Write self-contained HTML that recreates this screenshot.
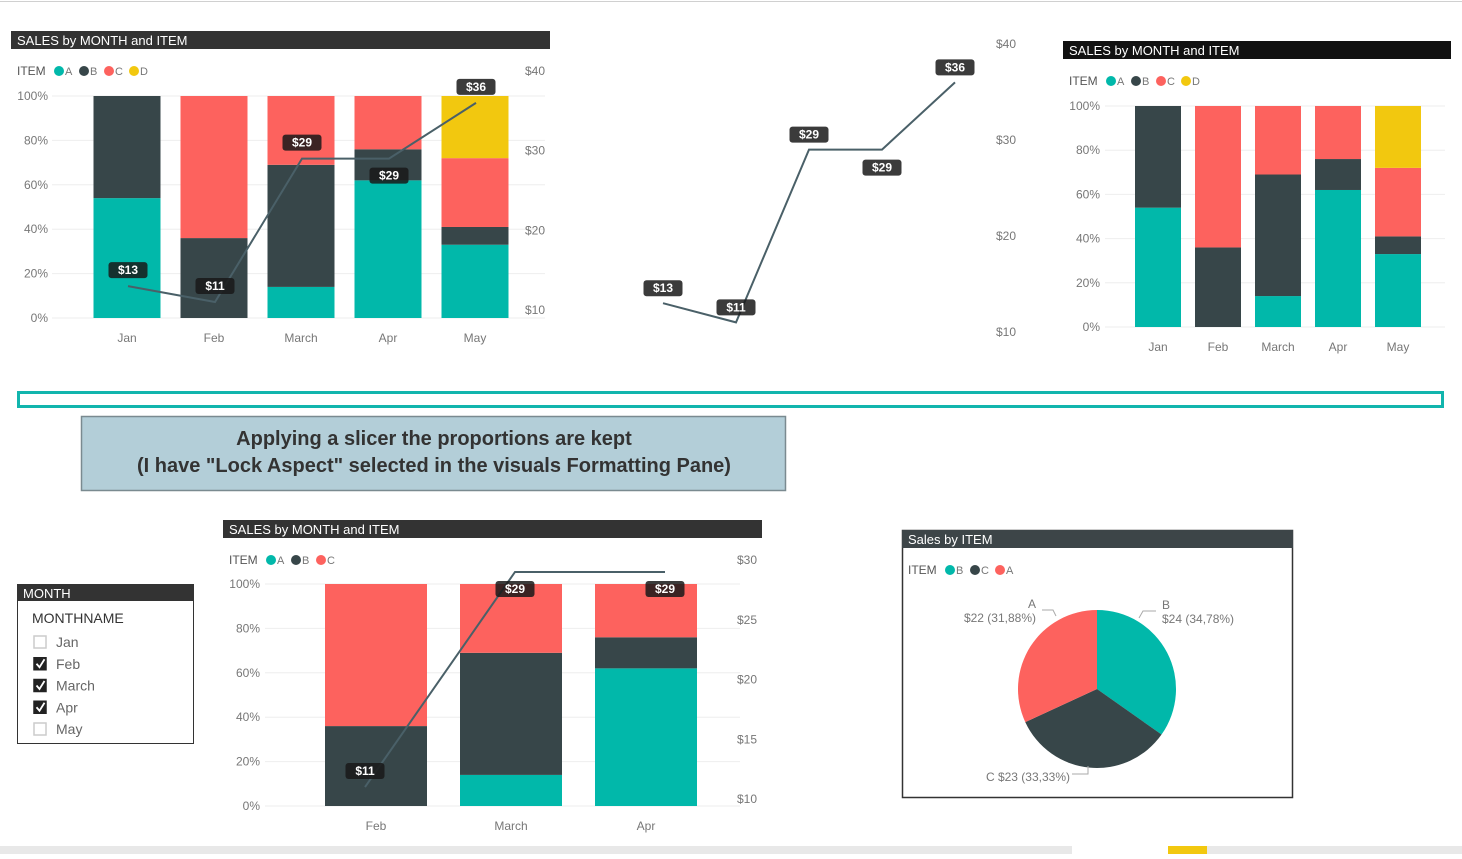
<!DOCTYPE html>
<html><head><meta charset="utf-8">
<style>
html,body{margin:0;padding:0;background:#fff;}
body{width:1462px;height:854px;overflow:hidden;position:relative;font-family:"Liberation Sans",sans-serif;}
svg text{font-family:"Liberation Sans",sans-serif;}
</style></head>
<body>
<svg id="root" width="1462" height="854" viewBox="0 0 1462 854" xmlns="http://www.w3.org/2000/svg">
  <line x1="0" y1="1.5" x2="1462" y2="1.5" stroke="#d0d0d0" stroke-width="1"/>
  <g>
    <rect x="11" y="31" width="539" height="18" fill="#333"/>
    <text x="17" y="45" font-size="13" fill="#fff">SALES by MONTH and ITEM</text>
  </g>
  <g>
    <rect x="1063" y="41" width="388" height="18" fill="#111"/>
    <text x="1069" y="55" font-size="13" fill="#fff">SALES by MONTH and ITEM</text>
  </g>
  <g>
    <rect x="223" y="520" width="539" height="18" fill="#333"/>
    <text x="229" y="534" font-size="13" fill="#fff">SALES by MONTH and ITEM</text>
  </g>
  <rect x="18.5" y="392.5" width="1424" height="14" fill="none" stroke="#12b5ad" stroke-width="3"/>
  <g>
    <rect x="81.5" y="416.5" width="704" height="74" fill="#b3ced8" stroke="#7a8a90" stroke-width="1.5"/>
    <text x="434" y="445" font-size="20" font-weight="bold" fill="#333" text-anchor="middle">Applying a slicer the proportions are kept</text>
    <text x="434" y="472" font-size="20" font-weight="bold" fill="#333" text-anchor="middle">(I have "Lock Aspect" selected in the visuals Formatting Pane)</text>
  </g>
  <g>
    <rect x="17.5" y="584.5" width="176" height="159" fill="#fff" stroke="#333" stroke-width="1"/>
    <rect x="17" y="584" width="177" height="17" fill="#333"/>
    <text x="23" y="598" font-size="13" fill="#fff">MONTH</text>
    <text x="32" y="623" font-size="14" fill="#333">MONTHNAME</text>
  </g>
  <g id="slicerItems"></g>
  <g>
    <rect x="902.5" y="530.5" width="390" height="267" fill="#fff" stroke="#333" stroke-width="1.5"/>
    <rect x="902" y="530" width="391" height="18" fill="#3d4548"/>
    <text x="908" y="544" font-size="13" fill="#fff">Sales by ITEM</text>
  </g>
  <g id="charts"></g>
  <g>
    <rect x="0" y="846" width="1072" height="8" fill="#e8e8e8"/>
    <rect x="1168" y="846" width="39" height="8" fill="#f2c80f"/>
    <rect x="1207" y="846" width="255" height="8" fill="#e8e8e8"/>
  </g>
</svg>
<script>
// ---------- data ----------
const colors = {A:'#01b8aa',B:'#374649',C:'#fd625e',D:'#f2c80f'};
const months = ['Jan','Feb','March','Apr','May'];
const itemsTop = ['A','B','C','D'];
const shareA = [54,0,14,62,33];
const shareB = [46,36,55,14,8];
const shareC = [0,64,31,24,31];
const shareD = [0,0,0,0,28];
const salesTotals = [13,11,29,29,36];
const labelBelow = [false,false,false,true,false];
const pctTicks = ['0%','20%','40%','60%','80%','100%'];
const topRightTicks = ['$10','$20','$30','$40'];
const topRightTickVals = [10,20,30,40];

const monthsBottom = ['Feb','March','Apr'];
const itemsBottom = ['A','B','C'];
const bShareA = [0,14,62];
const bShareB = [36,55,14];
const bShareC = [64,31,24];
const bSales = [11,29,29];
const bLabelBelow = [false,true,true];
const bottomTickVals = [10,15,20,25,30];
const bottomTicks = ['$10','$15','$20','$25','$30'];

const pieItems = ['B','C','A'];
const pieValues = [24,23,22];
const piePct = ['34,78%','33,33%','31,88%'];
const pieColors = ['#01b8aa','#374649','#fd625e'];

const slicerMonths = ['Jan','Feb','March','Apr','May'];
const slicerChecked = [false,true,true,true,false];

// ---------- helpers ----------
const NS='http://www.w3.org/2000/svg';
const root=document.getElementById('charts');
function mk(tag,attrs,parent){const e=document.createElementNS(NS,tag);for(const k in attrs)e.setAttribute(k,attrs[k]);(parent||root).appendChild(e);return e;}
function txt(x,y,s,attrs,parent){const t=mk('text',Object.assign({x:x,y:y,'font-size':12,fill:'#777'},attrs||{}),parent);t.textContent=s;return t;}
function linY(v,v0,v1,y0,y1){return y0+(v-v0)*(y1-y0)/(v1-v0);}
function badge(cx,cy,s,g){
  const w=s.length*7+18;
  const r=mk('rect',{x:cx-w/2,y:cy-8,width:w,height:16,rx:3,fill:'rgba(25,25,25,0.85)'},g);
  
  
  const t=txt(cx,cy+4,s,{'font-size':12,'font-weight':'bold',fill:'#fff','text-anchor':'middle'},g);
  
  
}
function legend(x,y,items,g,cols){
  const l=txt(x,y+4,'ITEM',{'font-size':12,fill:'#555'},g);
  
  
  let cx=x+42;
  items.forEach((it,i)=>{
    const c=mk('circle',{cx:cx,cy:y,r:5,fill:cols?cols[i]:colors[it]},g);
    
    
    txt(cx+6,y+4,it,{'font-size':11,fill:'#777'},g);
    cx+=25;
  });
}

function stackedChart(opt){
  const g=mk('g',{});
  
  
  const yP=p=>linY(p,0,100,opt.y0,opt.y100);
  if(opt.legend) legend(opt.legendX,opt.legendY,opt.items,g);
  pctTicks.forEach((t,i)=>{
    const y=yP(i*20);
    const gl=mk('line',{x1:opt.gx0,x2:opt.gx1,y1:y,y2:y,stroke:'#eee'},g);
    
    
    const tl=txt(opt.pctX,y+4,t,{'text-anchor':'end'},g);
    
    
  });
  opt.cats.forEach((c,i)=>{
    const cx=opt.cx0+i*opt.step;
    let acc=0;
    opt.items.forEach(it=>{
      const v=opt.shares[it][i];
      if(v>0){
        const r=mk('rect',{x:cx-opt.bw/2,y:yP(acc+v),width:opt.bw,height:yP(acc)-yP(acc+v),fill:colors[it]},g);
        
        
      }
      acc+=v;
    });
    const xl=txt(cx,opt.y0+24,c,{'text-anchor':'middle'},g);
    
    
  });
  if(opt.rTicks){
    opt.rTicks.forEach((t,i)=>{
      const y=linY(opt.rTickVals[i],opt.rv0,opt.rv1,opt.ry0,opt.ry1);
      const tl=txt(opt.rx,y+4,t,{'text-anchor':'middle'},g);
      
      
    });
  }
  if(opt.line){
    const pts=opt.line.map((v,i)=>[opt.lx0+i*opt.lstep,linY(v,opt.rv0,opt.rv1,opt.ry0,opt.ry1)]);
    const pl=mk('polyline',{points:pts.map(p=>p.join(',')).join(' '),fill:'none',stroke:'#4a6068','stroke-width':2},g);
    
    
    pts.forEach((p,i)=>badge(p[0],p[1]+(opt.below[i]?17:-16),'$'+opt.line[i],g));
  }
  return g;
}

stackedChart({name:'top-left-combo-chart',cats:months,items:itemsTop,shares:{A:shareA,B:shareB,C:shareC,D:shareD},
  y0:318,y100:96,gx0:52,gx1:545,pctX:48,cx0:127,step:87,bw:67,legend:true,legendX:17,legendY:71,
  rTicks:topRightTicks,rTickVals:topRightTickVals,rx:535,rv0:10,rv1:40,ry0:310,ry1:71,
  line:salesTotals,lx0:128,lstep:87,below:labelBelow});

(function(){
  const g=mk('g',{});
  
  
  const yv=v=>linY(v,10,40,332,44);
  topRightTickVals.forEach((v,i)=>{
    const t=txt(1006,yv(v)+4,topRightTicks[i],{'text-anchor':'middle'},g);
    
    
  });
  const pts=salesTotals.map((v,i)=>[663+i*73,yv(v)]);
  const pl=mk('polyline',{points:pts.map(p=>p.join(',')).join(' '),fill:'none',stroke:'#4a6068','stroke-width':2},g);
  
  
  pts.forEach((p,i)=>badge(p[0],p[1]+(labelBelow[i]?18:-15),'$'+salesTotals[i],g));
})();

stackedChart({name:'top-right-stacked-chart',cats:months,items:itemsTop,shares:{A:shareA,B:shareB,C:shareC,D:shareD},
  y0:327,y100:106,gx0:1105,gx1:1445,pctX:1100,cx0:1158,step:60,bw:46,legend:true,legendX:1069,legendY:81});

stackedChart({name:'bottom-combo-chart',cats:monthsBottom,items:itemsBottom,shares:{A:bShareA,B:bShareB,C:bShareC},
  y0:806,y100:584,gx0:265,gx1:740,pctX:260,cx0:376,step:135,bw:102,legend:true,legendX:229,legendY:560,
  rTicks:bottomTicks,rTickVals:bottomTickVals,rx:747,rv0:10,rv1:30,ry0:799,ry1:560,
  line:bSales,lx0:365,lstep:150,below:bLabelBelow});

(function(){
  const g=document.getElementById('slicerItems');
  slicerMonths.forEach((m,i)=>{
    const y=642+i*21.75;
    const b=mk('rect',{x:34,y:y-6,width:12,height:12,fill:slicerChecked[i]?'#222':'#fff',stroke:slicerChecked[i]?'#222':'#ccc','stroke-width':1.5},g);
    
    
    if(slicerChecked[i]) mk('path',{d:`M36.5 ${y} l3 3.5 l5 -8`,fill:'none',stroke:'#fff','stroke-width':1.8},g);
    const t=txt(56,y+5,m,{'font-size':14,fill:'#666'},g);
    
    
  });
})();

(function(){
  const g=mk('g',{});
  
  
  legend(908,570,pieItems,g,pieColors);
  const cx=1097,cy=689,r=79;
  const tot=pieValues.reduce((a,b)=>a+b,0);
  let a=-Math.PI/2;
  pieValues.forEach((v,i)=>{
    const a2=a+v/tot*2*Math.PI;
    const large=(a2-a)>Math.PI?1:0;
    const d=`M${cx},${cy} L${cx+r*Math.cos(a)},${cy+r*Math.sin(a)} A${r},${r} 0 ${large} 1 ${cx+r*Math.cos(a2)},${cy+r*Math.sin(a2)} Z`;
    const p=mk('path',{d:d,fill:pieColors[i]},g);
    
    
    a=a2;
  });
  const ls={stroke:'#aaa','stroke-width':1,fill:'none'};
  mk('polyline',Object.assign({points:'1139,618 1143,611 1156,611'},ls),g);
  txt(1162,609,pieItems[0],{'font-size':12,fill:'#777'},g);
  txt(1162,623,'$'+pieValues[0]+' ('+piePct[0]+')',{'font-size':12,fill:'#777'},g);
  mk('polyline',Object.assign({points:'1072,774 1088,774 1088,766'},ls),g);
  txt(1070,781,pieItems[1]+' $'+pieValues[1]+' ('+piePct[1]+')',{'font-size':12,fill:'#777','text-anchor':'end'},g);
  mk('polyline',Object.assign({points:'1056,616 1053,610 1042,610'},ls),g);
  txt(1036,608,pieItems[2],{'font-size':12,fill:'#777','text-anchor':'end'},g);
  txt(1036,622,'$'+pieValues[2]+' ('+piePct[2]+')',{'font-size':12,fill:'#777','text-anchor':'end'},g);
})();
</script>
</body></html>
